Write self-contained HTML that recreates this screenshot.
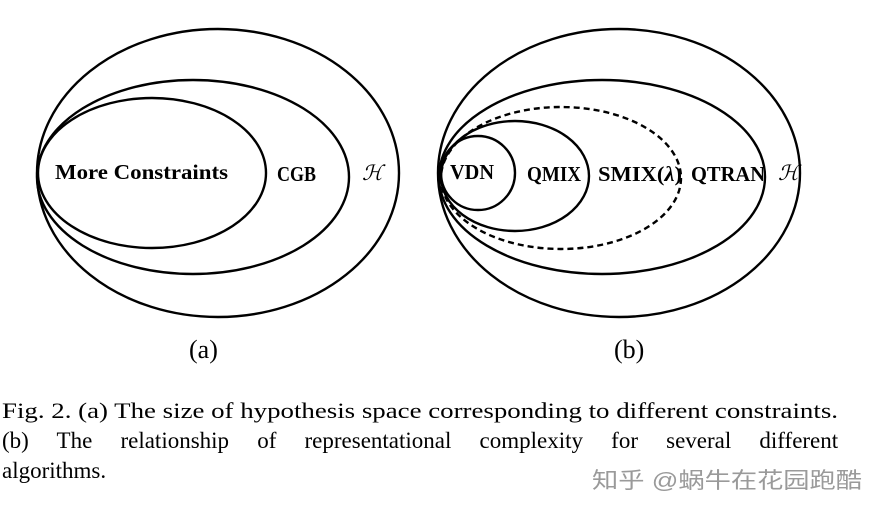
<!DOCTYPE html>
<html><head><meta charset="utf-8"><style>
body{margin:0;background:#fff;width:884px;height:516px;overflow:hidden}
svg{display:block}
</style></head><body>
<svg width="884" height="516" viewBox="0 0 884 516" xmlns="http://www.w3.org/2000/svg">
<g fill="none" stroke="#000" stroke-width="2.4">
<ellipse cx="218" cy="173" rx="181" ry="144"/>
<ellipse cx="193" cy="177" rx="156" ry="97"/>
<ellipse cx="152" cy="173" rx="114" ry="75"/>
<ellipse cx="619" cy="173" rx="181" ry="144"/>
<ellipse cx="602" cy="177" rx="163" ry="97"/>
<ellipse cx="561" cy="178" rx="120" ry="71" stroke-dasharray="6,4"/>
<ellipse cx="515" cy="176" rx="74" ry="55"/>
<ellipse cx="478" cy="173" rx="37" ry="37"/>
</g>
<g font-family="Liberation Serif, serif" font-weight="bold" font-size="21" fill="#000">
<text x="55" y="179" textLength="173" lengthAdjust="spacingAndGlyphs">More Constraints</text>
<text x="277" y="181" textLength="39" lengthAdjust="spacingAndGlyphs">CGB</text>
<text x="450" y="179" textLength="44" lengthAdjust="spacingAndGlyphs">VDN</text>
<text x="527" y="181" textLength="54" lengthAdjust="spacingAndGlyphs">QMIX</text>
<text x="598" y="181" textLength="84" lengthAdjust="spacingAndGlyphs">SMIX(<tspan font-style="italic">λ</tspan>)</text>
<text x="691" y="181" textLength="74" lengthAdjust="spacingAndGlyphs">QTRAN</text>
</g>
<g font-family="Liberation Serif, serif" font-style="italic" font-size="21" fill="#000">
<text x="362" y="180">ℋ</text>
<text x="778" y="180">ℋ</text>
</g>
<g font-family="Liberation Serif, serif" font-size="26" fill="#000">
<text x="189" y="358">(a)</text>
<text x="614" y="358">(b)</text>
</g>
<g font-family="Liberation Serif, serif" font-size="22" fill="#000">
<text x="2" y="418" textLength="836" lengthAdjust="spacingAndGlyphs">Fig. 2.  (a) The size of hypothesis space corresponding to different constraints.</text>
<text x="2" y="448" font-size="23" word-spacing="22.4">(b) The relationship of representational complexity for several different</text>
<text x="2" y="478" font-size="23">algorithms.</text>
</g>
<text x="592" y="488" font-family="Liberation Sans, 'Noto Sans CJK SC', sans-serif" font-size="22" fill="#9a9a9a" textLength="270" lengthAdjust="spacingAndGlyphs">知乎 @蜗牛在花园跑酷</text>
</svg>
</body></html>
